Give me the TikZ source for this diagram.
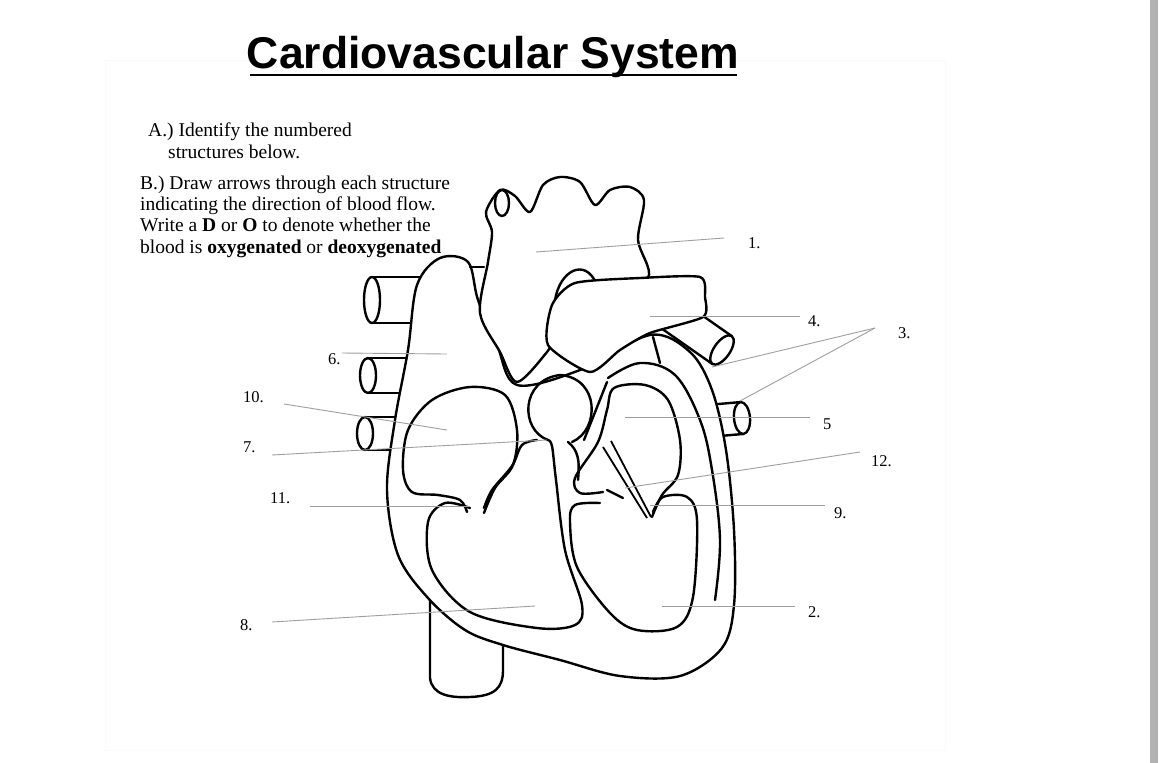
\documentclass[tikz,border=0pt]{standalone}
\usepackage{fontspec}
\setmainfont{Liberation Serif}
\newfontfamily\titlefont{Liberation Sans}
\begin{document}
\begin{tikzpicture}[x=1pt,y=-1pt,
  hl/.style={line width=2.4pt,line join=round,line cap=round},
  hf/.style={hl,fill=white},
  lead/.style={gray!75,line width=0.9pt},
  lab/.style={font=\fontsize{16.5}{16.5}\selectfont,inner sep=0pt,anchor=base west},
  txt/.style={font=\fontsize{19.5}{19.5}\selectfont,inner sep=0pt,anchor=base west}]
\useasboundingbox (0,0) rectangle (1170,763);
\fill[white] (0,0) rectangle (1170,763);
\draw[gray!4,line width=1pt] (105,60) rectangle (945,750);
\fill[gray!60] (1150,0) rectangle (1158,763);
% title
\node[inner sep=0pt,anchor=base] (title) at (493,68) {\titlefont\bfseries\fontsize{44.5}{44.5}\selectfont Cardiovascular System};
\draw[line width=2.4pt] (250,75) -- (737,75);
% instructions
\node[txt] (ta) at (148,136) {A.) Identify the numbered};
\node[txt] (tb) at (168,158) {structures below.};
\node[txt] (tc) at (140,189) {B.) Draw arrows through each structure};
\node[txt] (td) at (140,210) {indicating the direction of blood flow.};
\node[txt] (te) at (140,231) {Write a \textbf{D} or \textbf{O} to denote whether the};
\node[txt] (tf) at (140,253) {blood is \textbf{oxygenated} or \textbf{deoxygenated}};
% left pulmonary veins
\foreach \yt/\yb/\xe in {277/323/372, 358/393/368, 417/450/365}{
  \draw[hf] (\xe,\yt) -- (430,\yt) -- (430,\yb) -- (\xe,\yb);
  \draw[hf] (\xe,{(\yt+\yb)/2}) ellipse ({8} and {(\yb-\yt)/2});
}
% right pulmonary veins
\begin{scope}[shift={(722,350)},rotate=-35]
  \draw[hf] (-70,-17) -- (0,-17) -- (0,17) -- (-70,17);
  \draw[hf] (0,0) ellipse (8 and 17);
\end{scope}
\begin{scope}[shift={(742,418)},rotate=5]
  \draw[hf] (-70,-16) -- (0,-16) -- (0,16) -- (-70,16);
  \draw[hf] (0,0) ellipse (8 and 16);
\end{scope}
% IVC
\draw[hf] (430,590) -- (430,678) .. controls (432,695) and (450,698) .. (470,697) .. controls (495,696) and (503,688) .. (503,670) -- (503,620);
% heart body with SVC
\draw[hf] plot[smooth cycle,tension=0.55] coordinates {
 (417,285) (440,258) (468,262) (478,300) (497,345) (517,385) (580,370) (650,335)
 (690,352) (712,390) (726,450) (734,530) (734,605) (722,648) (680,676) (620,676)
 (560,660) (503,645) (465,630) (428,598) (398,555) (387,490) (395,420) (408,350)};
% aorta
\draw[hf] plot[smooth cycle,tension=0.5] coordinates {
 (480,313) (488,262) (492,232) (486,212) (500,190) (515,196) (530,212) (543,185)
 (560,177) (580,182) (595,205) (610,190) (630,187) (644,200) (638,240) (648,278)
 (600,300) (560,330) (547,352) (517,382) (500,352)};
\draw[hl] (502,203) ellipse (7 and 13);
% arch inner hump
\draw[hl] (555,300) .. controls (560,270) and (585,258) .. (596,283);
% pulmonary trunk
\draw[hf] plot[smooth cycle,tension=0.4] coordinates {
 (548,345) (552,305) (575,283) (640,278) (700,277) (705,297) (703,317) (650,333) (620,350) (590,372)};
\draw[hl] (470,267) -- (484,267);
\draw[hl] (653,337) -- (660,363);
% inner wall near LA
\draw[hl] plot[smooth,tension=0.6] coordinates {(608,378) (640,363) (675,375) (700,420) (712,470) (720,540) (715,600)};
% right atrium
\draw[hl] plot[smooth,tension=0.55] coordinates {
 (467,512) (460,500) (438,495) (412,492) (403,470) (408,430) (432,400) (470,387) (505,395) (517,430) (513,465) (495,488) (484,513)};
% right ventricle
\draw[hl] plot[smooth,tension=0.55] coordinates {
 (470,508) (445,503) (428,522) (432,570) (470,612) (537,628) (575,625) (582,605) (565,550) (556,480) (552,446) (548,440)};
\draw[hl] plot[smooth,tension=0.55] coordinates {(484,508) (492,490) (512,466) (522,445) (537,440)};
% aortic root circle
\draw[hl] (548,440) .. controls (520,430) and (520,380) .. (560,375) .. controls (600,378) and (600,430) .. (572,442);
\draw[hl] (568,442) .. controls (578,450) and (580,460) .. (578,480);
% left atrium
\draw[hl] plot[smooth,tension=0.55] coordinates {
 (603,492) (580,493) (575,478) (598,442) (607,410) (614,388) (645,385) (668,400) (680,440) (678,475) (662,495) (652,517)};
\draw[hl] (584,440) -- (607,382);
% chordae
\draw[line width=1.8pt] (603,447) -- (647,518);
\draw[line width=1.8pt] (611,441) -- (651,517);
\draw[hl] (607,490) -- (623,498);
% left ventricle
\draw[hl] plot[smooth,tension=0.55] coordinates {
 (600,503) (575,505) (570,522) (577,567) (610,613) (637,630) (677,627) (693,597) (697,520) (687,497) (663,497) (653,512)};
% leaders and labels
\node[lab] (l1) at (748,248) {1.};
\node[lab] (l4) at (808,326) {4.};
\node[lab] (l3) at (898,338) {3.};
\node[lab] (l6) at (328,364) {6.};
\node[lab] (l10) at (243,402) {10.};
\node[lab] (l7) at (243,452) {7.};
\node[lab] (l11) at (270,503) {11.};
\node[lab] (l8) at (240,630) {8.};
\node[lab] (l5) at (823,429) {5};
\node[lab] (l12) at (871,466) {12.};
\node[lab] (l9) at (834,518) {9.};
\node[lab] (l2) at (808,617) {2.};
\coordinate (c3) at (875,328);
\draw[lead] (536,252) -- (724,238);
\draw[lead] (650,316) -- (800,316);
\draw[lead] (c3) -- (712,367);
\draw[lead] (c3) -- (740,401);
\draw[lead] (342,353) -- (447,354);
\draw[lead] (284,404) -- (447,430);
\draw[lead] (272,455) -- (547,440);
\draw[lead] (310,506) -- (470,506);
\draw[lead] (272,622) -- (535,606);
\draw[lead] (625,417) -- (810,417);
\draw[lead] (625,488) -- (860,452);
\draw[lead] (650,505) -- (825,505);
\draw[lead] (662,606) -- (795,606);
\end{tikzpicture}
\end{document}
